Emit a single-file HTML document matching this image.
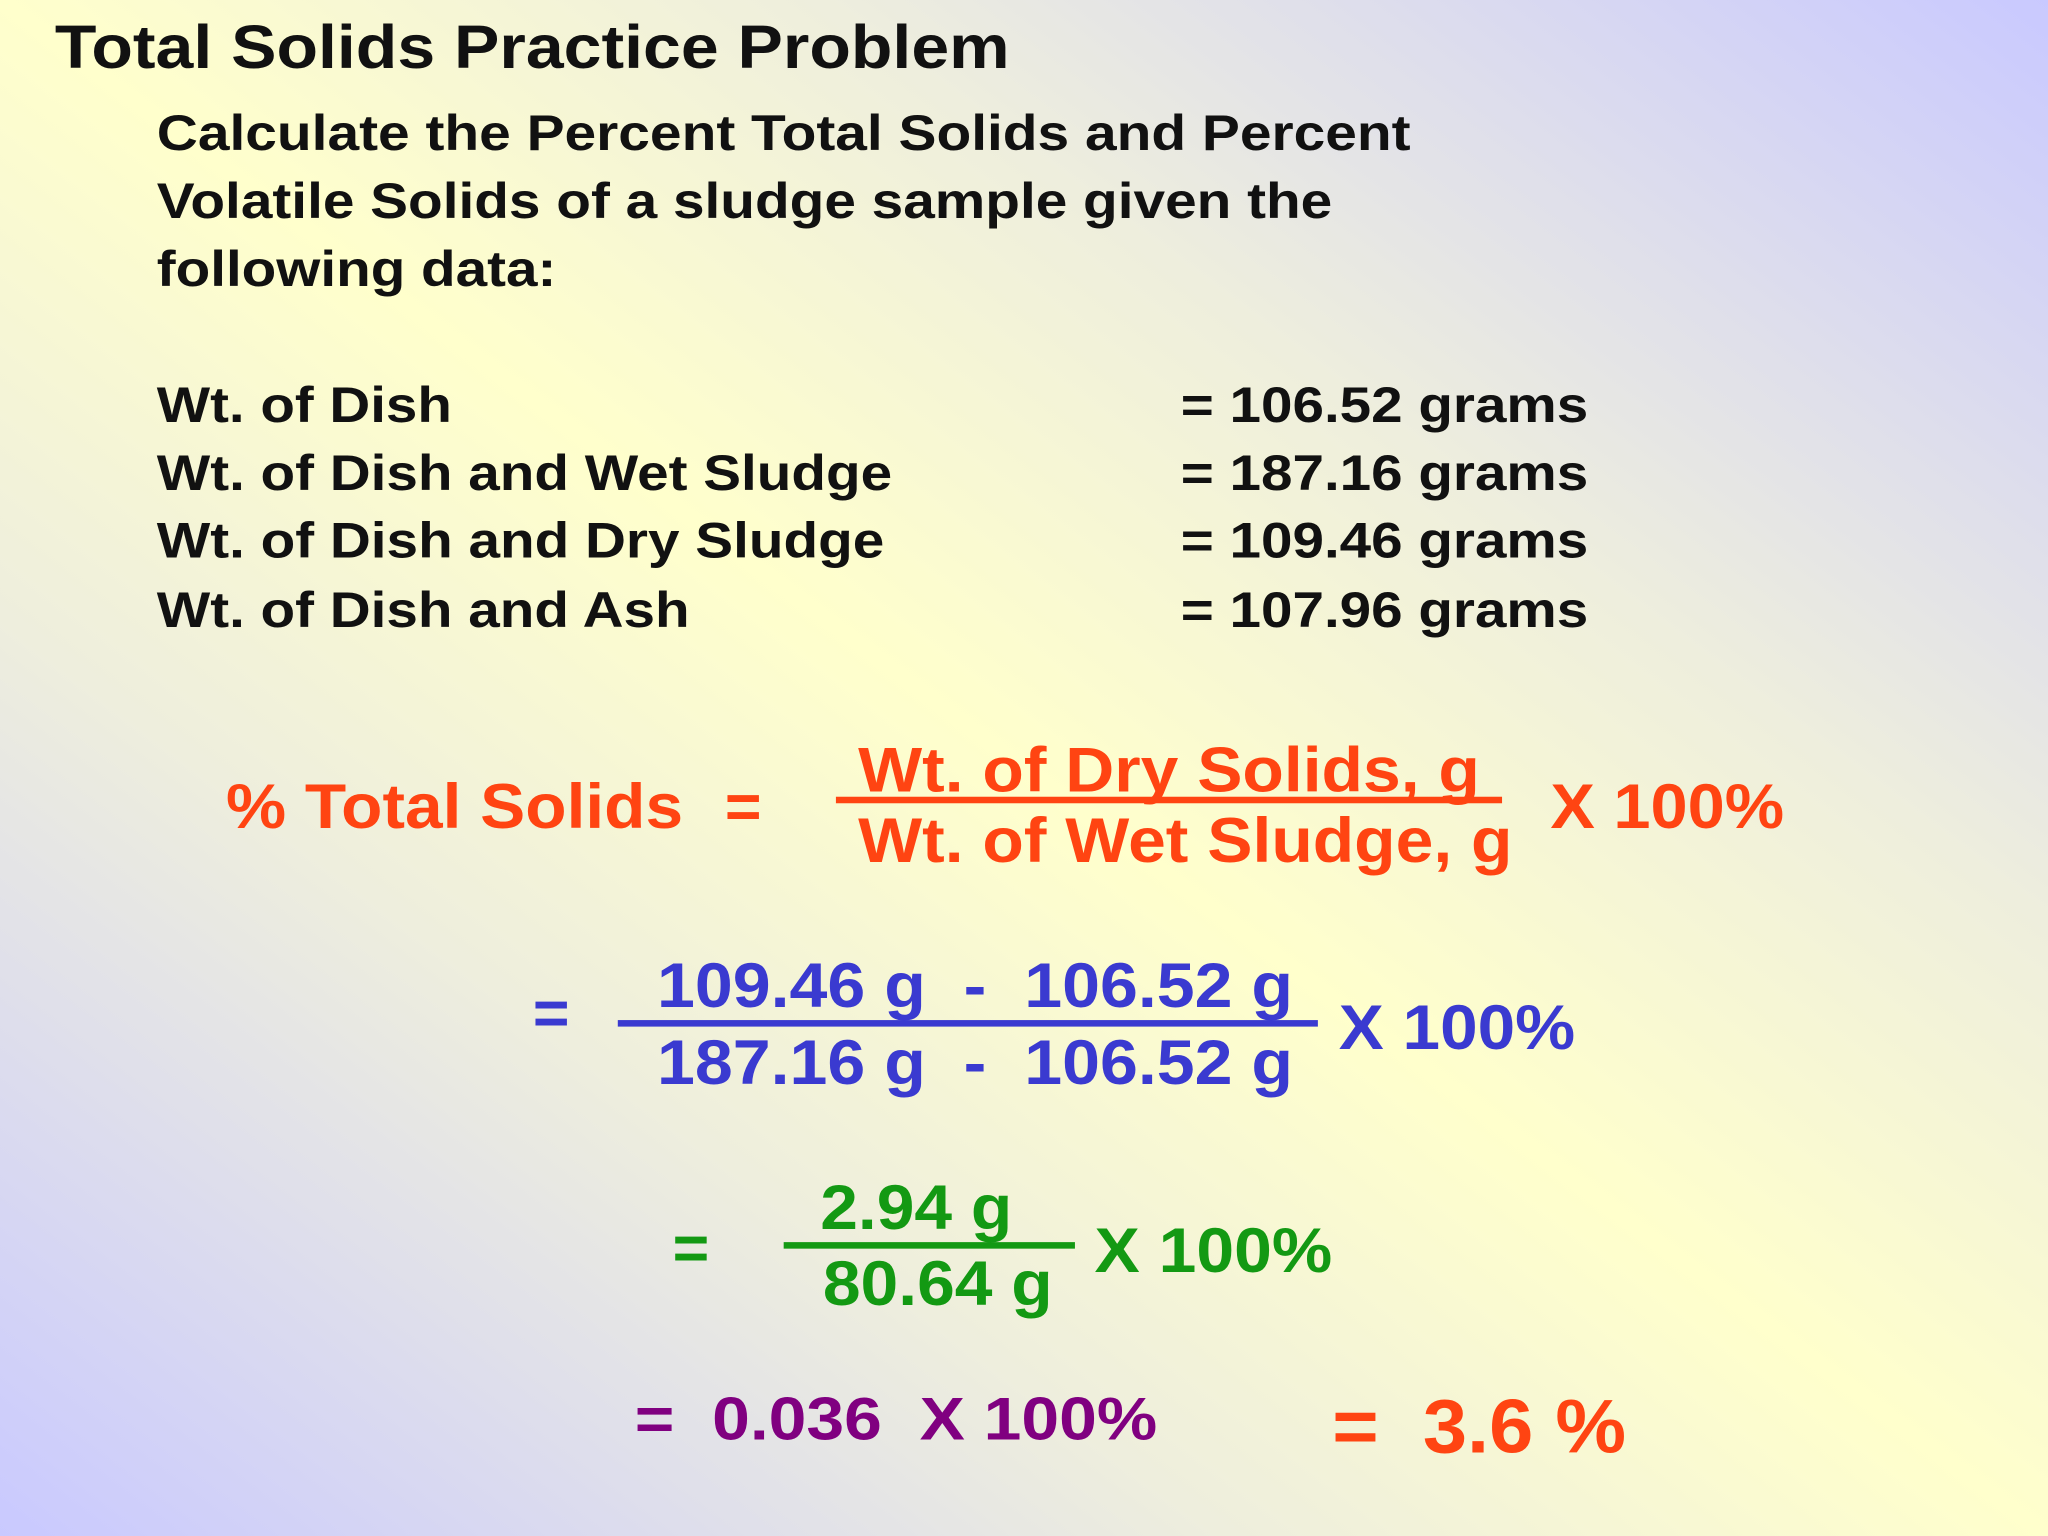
<!DOCTYPE html>
<html><head><meta charset="utf-8"><style>
html,body{margin:0;padding:0;width:2048px;height:1536px;overflow:hidden}
body{background:linear-gradient(to top right,#c9c9ff 0%,#eeeedd 30%,#ffffcc 50%,#eeeedd 70%,#c9c9ff 100%)}
svg{display:block}
text{font-family:"Liberation Sans",Arial,sans-serif;font-weight:bold}
</style></head><body>
<svg width="2048" height="1536" viewBox="0 0 1568 1176">
<text x="42" y="52" font-size="47" fill="#111" textLength="731" lengthAdjust="spacingAndGlyphs">Total Solids Practice Problem</text>
<g font-size="38.5" fill="#111">
<text x="120" y="115" textLength="960" lengthAdjust="spacingAndGlyphs">Calculate the Percent Total Solids and Percent</text>
<text x="120" y="167" textLength="900" lengthAdjust="spacingAndGlyphs">Volatile Solids of a sludge sample given the</text>
<text x="120" y="219" textLength="306" lengthAdjust="spacingAndGlyphs">following data:</text>
</g>
<g font-size="38.5" fill="#111">
<text x="120" y="323" textLength="226" lengthAdjust="spacingAndGlyphs">Wt. of Dish</text>
<text x="120" y="375" textLength="563" lengthAdjust="spacingAndGlyphs">Wt. of Dish and Wet Sludge</text>
<text x="120" y="427" textLength="557" lengthAdjust="spacingAndGlyphs">Wt. of Dish and Dry Sludge</text>
<text x="120" y="480" textLength="408" lengthAdjust="spacingAndGlyphs">Wt. of Dish and Ash</text>
<text x="904" y="323" textLength="312" lengthAdjust="spacingAndGlyphs">= 106.52 grams</text>
<text x="904" y="375" textLength="312" lengthAdjust="spacingAndGlyphs">= 187.16 grams</text>
<text x="904" y="427" textLength="312" lengthAdjust="spacingAndGlyphs">= 109.46 grams</text>
<text x="904" y="480" textLength="312" lengthAdjust="spacingAndGlyphs">= 107.96 grams</text>
</g>
<g fill="#ff4412" font-size="48">
<text x="173" y="634" textLength="350" lengthAdjust="spacingAndGlyphs">% Total Solids</text>
<text x="555" y="634">=</text>
<text x="657" y="606" textLength="476" lengthAdjust="spacingAndGlyphs">Wt. of Dry Solids, g</text>
<rect x="640" y="610" width="510" height="5"/>
<text x="657" y="660" textLength="501" lengthAdjust="spacingAndGlyphs">Wt. of Wet Sludge, g</text>
<text x="1187" y="634" textLength="179" lengthAdjust="spacingAndGlyphs">X 100%</text>
</g>
<g fill="#3a3ad0" font-size="48">
<text x="408" y="792">=</text>
<text x="503" y="771" xml:space="preserve" textLength="487" lengthAdjust="spacingAndGlyphs">109.46 g  -  106.52 g</text>
<rect x="473" y="781" width="536" height="5"/>
<text x="503" y="830" xml:space="preserve" textLength="487" lengthAdjust="spacingAndGlyphs">187.16 g  -  106.52 g</text>
<text x="1025" y="803" textLength="181" lengthAdjust="spacingAndGlyphs">X 100%</text>
</g>
<g fill="#139913" font-size="48">
<text x="515" y="972">=</text>
<text x="628" y="941" textLength="147" lengthAdjust="spacingAndGlyphs">2.94 g</text>
<rect x="600" y="951" width="223" height="5"/>
<text x="630" y="999" textLength="176" lengthAdjust="spacingAndGlyphs">80.64 g</text>
<text x="838" y="974" textLength="182" lengthAdjust="spacingAndGlyphs">X 100%</text>
</g>
<text x="486" y="1102" font-size="46" fill="#800080" xml:space="preserve" textLength="400" lengthAdjust="spacingAndGlyphs">=  0.036  X 100%</text>
<text x="1020" y="1112" font-size="58" fill="#ff4412" xml:space="preserve" textLength="225" lengthAdjust="spacingAndGlyphs">=  3.6 %</text>
</svg>
</body></html>
